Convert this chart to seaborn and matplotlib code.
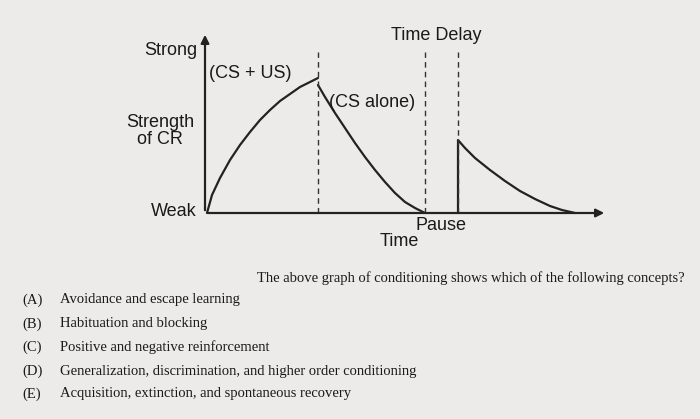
import matplotlib
matplotlib.use("Agg")
import matplotlib.pyplot as plt
import seaborn as sns

sns.set_style("white")
plt.rcParams['font.family'] = ['Liberation Sans', 'DejaVu Sans']

# Data (time in chart units, strength of CR in chart units)
acq_t = [207, 212, 220, 230, 240, 250, 260, 270, 280, 290, 300, 310, 318]
acq_s = [0, 18, 35, 53, 68, 81, 93, 103, 112, 119, 126, 131, 135]
ext_t = [318, 325, 335, 345, 355, 365, 375, 385, 395, 405, 415, 425]
ext_s = [128, 116, 100, 85, 70, 56, 43, 31, 20, 11, 5, 0]
rec_t = [458, 458, 465, 475, 490, 505, 520, 535, 550, 562, 575]
rec_s = [0, 73, 65, 55, 43, 32, 22, 14, 7, 3, 0]
dash_t = [318, 425, 458]

question = "The above graph of conditioning shows which of the following concepts?"
opt_letters = ["(A)", "(B)", "(C)", "(D)", "(E)"]
opt_texts = ["Avoidance and escape learning",
             "Habituation and blocking",
             "Positive and negative reinforcement",
             "Generalization, discrimination, and higher order conditioning",
             "Acquisition, extinction, and spontaneous recovery"]

BASE = 213
fig = plt.figure(figsize=(7, 4.19), dpi=100)
fig.patch.set_facecolor('#ecebea')
ax = fig.add_axes([0, 0, 1, 1])
ax.set_facecolor('#ecebea')
ax.set_xlim(0, 700)
ax.set_ylim(BASE - 419, BASE)
ax.axis('off')

def S(y):  # convert pixel row to strength units
    return BASE - y

for t, s in [(acq_t, acq_s), (ext_t, ext_s), (rec_t, rec_s)]:
    sns.lineplot(x=t, y=s, sort=False, color='#222', lw=1.6, ax=ax, estimator=None)

for t in dash_t:
    ax.plot([t, t], [0, S(52)], ls=(0, (4, 3)), color='#333', lw=1)

ax.annotate('', xy=(205, S(32)), xytext=(205, 0),
            arrowprops=dict(arrowstyle='-|>', color='#222', lw=1.6, mutation_scale=12))
ax.annotate('', xy=(607, 0), xytext=(205, 0),
            arrowprops=dict(arrowstyle='-|>', color='#222', lw=1.6, mutation_scale=12))

fs = 13
c = '#1a1a1a'
ax.text(197, S(51), "Strong", ha='right', va='center', fontsize=fs, color=c)
ax.text(160, S(131), "Strength\nof CR", ha='center', va='center', fontsize=fs, color=c, linespacing=1.0)
ax.text(197, S(211), "Weak", ha='right', va='center', fontsize=fs, color=c)
ax.text(209, S(74), "(CS + US)", ha='left', va='center', fontsize=fs, color=c)
ax.text(329, S(103), "(CS alone)", ha='left', va='center', fontsize=fs, color=c)
ax.text(436, S(36), "Time Delay", ha='center', va='center', fontsize=fs, color=c)
ax.text(441, S(226), "Pause", ha='center', va='center', fontsize=fs, color=c)
ax.text(399, S(241), "Time", ha='center', va='center', fontsize=fs, color=c)

sfam = ['Liberation Serif', 'DejaVu Serif']
ax.text(257, S(278), question, ha='left', va='center', fontsize=10.5, color=c, family=sfam)
ys = [300, 324, 347, 371, 394]
for y, l, t in zip(ys, opt_letters, opt_texts):
    ax.text(22, S(y), l, ha='left', va='center', fontsize=10.5, color=c, family=sfam)
    ax.text(60, S(y), t, ha='left', va='center', fontsize=10.5, color=c, family=sfam)

fig.savefig("out.png", dpi=100, facecolor=fig.get_facecolor())
